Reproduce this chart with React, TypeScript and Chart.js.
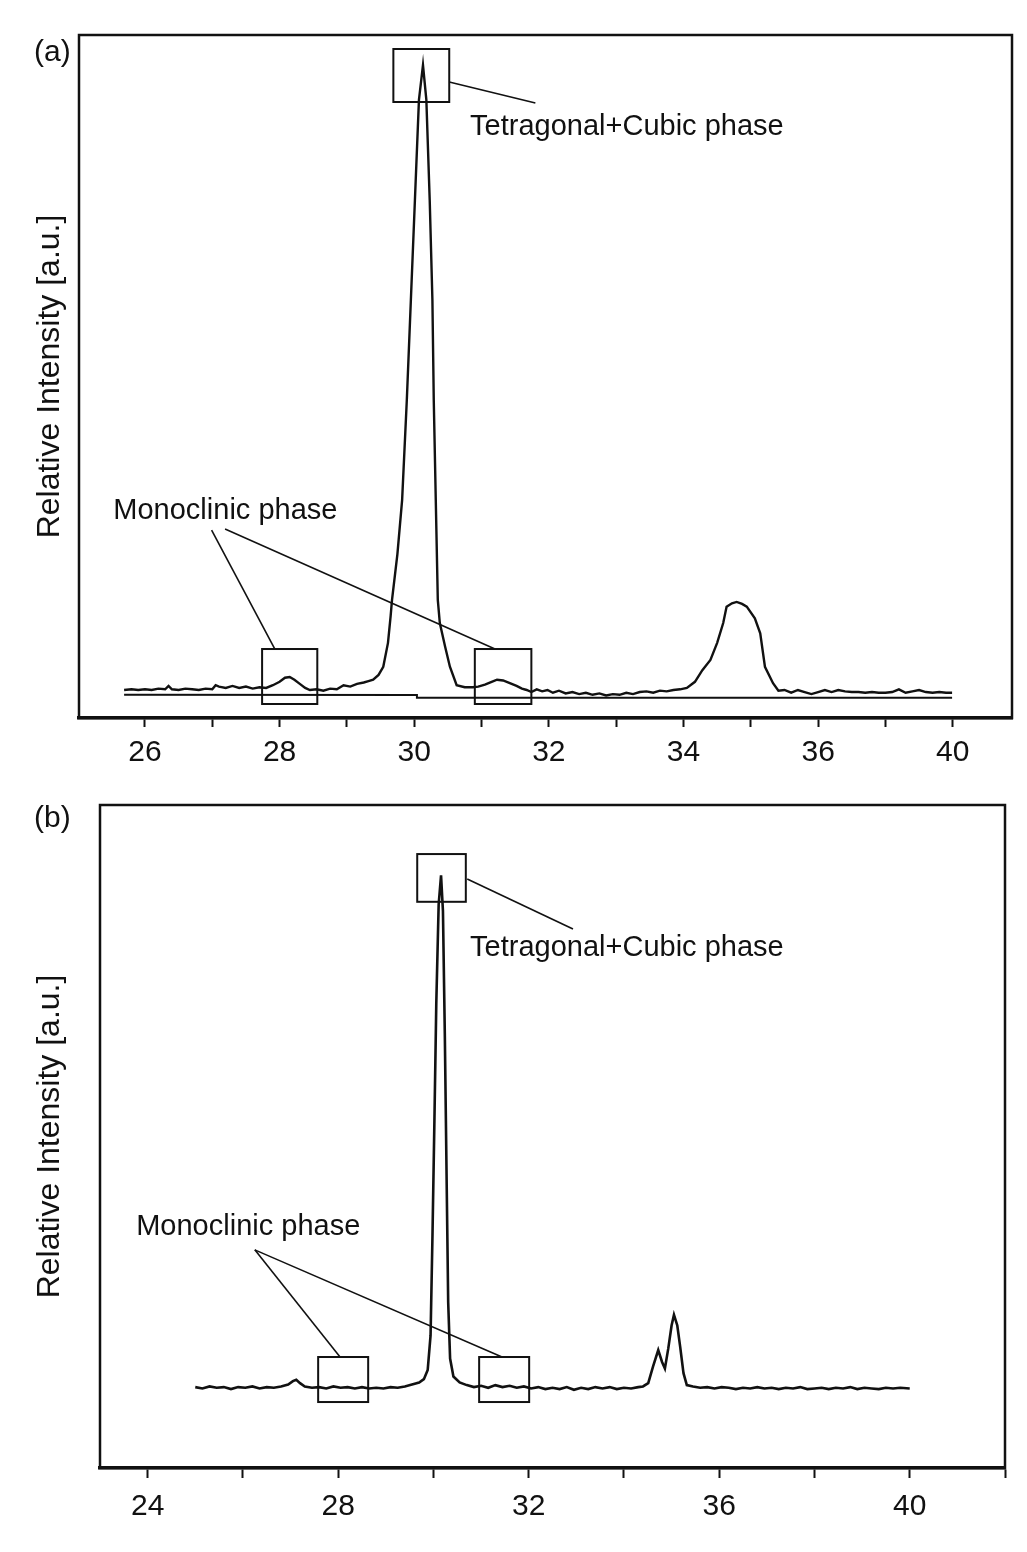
import React, { useEffect, useRef } from 'react';
import { Chart, registerables } from 'chart.js';

Chart.register(...registerables);

const FONT = '"Liberation Sans", Arial, Helvetica, sans-serif';

// ---------------- Panel (a) ----------------
const aTwoTheta = [
  25.69, 25.8, 25.9, 26.0, 26.1, 26.2, 26.3, 26.35, 26.4, 26.5, 26.6, 26.7, 26.8, 26.9, 27.0, 27.05,
  27.1, 27.2, 27.3, 27.4, 27.5, 27.6, 27.7, 27.8, 27.9, 28.0, 28.08, 28.15, 28.22, 28.3, 28.38, 28.45,
  28.55, 28.65, 28.75, 28.85, 28.95, 29.05, 29.15, 29.25, 29.32, 29.39, 29.47, 29.54, 29.61, 29.65,
  29.67, 29.75, 29.82, 29.89, 29.95, 30.01, 30.07, 30.13, 30.18, 30.23, 30.27, 30.29, 30.32, 30.35,
  30.38, 30.46, 30.53, 30.63, 30.75, 30.87, 30.95, 31.05, 31.15, 31.23, 31.32, 31.42, 31.52, 31.6,
  31.67, 31.74, 31.82, 31.9, 31.98, 32.06, 32.15, 32.25, 32.35, 32.45, 32.55, 32.65, 32.75, 32.85,
  32.95, 33.05, 33.15, 33.25, 33.35, 33.45, 33.55, 33.65, 33.75, 33.85, 33.95, 34.05, 34.17, 34.28,
  34.4, 34.5, 34.59, 34.64, 34.72, 34.79, 34.87, 34.94, 35.06, 35.14, 35.21, 35.33, 35.41, 35.5,
  35.6, 35.7, 35.8, 35.9, 36.0, 36.1, 36.2, 36.3, 36.4, 36.5, 36.6, 36.7, 36.8, 36.9, 37.0, 37.1,
  37.2, 37.3, 37.4, 37.5, 37.6, 37.7, 37.8, 37.9, 37.99,
];
const aIntensity = [
  4.1, 4.2, 4.1, 4.2, 4.1, 4.3, 4.2, 4.7, 4.2, 4.1, 4.3, 4.2, 4.1, 4.3, 4.2, 4.8,
  4.6, 4.4, 4.7, 4.4, 4.6, 4.3, 4.5, 4.4, 4.8, 5.3, 5.9, 6.0, 5.6, 5.0, 4.4, 4.1,
  4.2, 4.0, 4.3, 4.2, 4.8, 4.6, 5.0, 5.2, 5.4, 5.6, 6.3, 7.5, 11.0, 15.0,
  17.3, 24.0, 31.9, 46.6, 61.2, 75.8, 90.5, 95.6, 90.5, 75.8, 61.2, 46.6, 31.9, 17.3,
  13.9, 10.4, 7.5, 4.8, 4.5, 4.5, 4.6, 4.9, 5.3, 5.6, 5.5, 5.1, 4.7, 4.3,
  4.1, 3.8, 4.2, 3.9, 4.1, 3.7, 4.0, 3.6, 3.8, 3.5, 3.7, 3.4, 3.6, 3.3,
  3.5, 3.4, 3.7, 3.5, 3.8, 3.9, 3.7, 4.0, 3.9, 4.1, 4.2, 4.4, 5.3, 7.0,
  8.5, 11.0, 13.9, 16.3, 16.8, 17.0, 16.7, 16.3, 14.6, 12.4, 7.5, 5.1, 4.0, 4.1,
  3.7, 4.1, 3.8, 3.5, 3.8, 4.1, 3.8, 4.1, 3.9, 3.8, 3.8, 3.7, 3.8, 3.7, 3.7, 3.8,
  4.2, 3.7, 3.9, 4.1, 3.8, 3.7, 3.8, 3.7, 3.7,
];
const aBaseTwoTheta = [25.69, 30.04, 30.04, 37.99];
const aBaseIntensity = [3.4, 3.37, 2.97, 2.97];
const aTickValues = [26, 27, 28, 29, 30, 31, 32, 33, 34, 35, 36, 37, 38];
const aTickLabels = ['26', '', '28', '', '30', '', '32', '', '34', '', '36', '', '40'];

// ---------------- Panel (b) ----------------
const bTwoTheta = [
  25.0, 25.15, 25.3, 25.45, 25.6, 25.75, 25.9, 26.05, 26.2, 26.35, 26.5, 26.65, 26.8, 26.95, 27.05,
  27.12, 27.2, 27.3, 27.45, 27.6, 27.75, 27.9, 28.05, 28.2, 28.35, 28.5, 28.65, 28.8, 28.95, 29.1,
  29.25, 29.4, 29.55, 29.7, 29.8, 29.88, 29.94, 29.98, 30.02, 30.06, 30.11, 30.16, 30.2, 30.24,
  30.28, 30.31, 30.35, 30.42, 30.55, 30.7, 30.85, 31.0, 31.15, 31.3, 31.45, 31.6, 31.75, 31.9,
  32.05, 32.2, 32.35, 32.5, 32.65, 32.8, 32.95, 33.1, 33.25, 33.4, 33.55, 33.7, 33.85, 34.0,
  34.15, 34.3, 34.4, 34.51, 34.61, 34.72, 34.8, 34.86, 34.93, 35.0, 35.05, 35.12, 35.18, 35.25,
  35.32, 35.45, 35.6, 35.75, 35.9, 36.05, 36.2, 36.35, 36.5, 36.65, 36.8, 36.95, 37.1, 37.25,
  37.4, 37.55, 37.7, 37.85, 38.0, 38.15, 38.3, 38.45, 38.6, 38.75, 38.9, 39.05, 39.2, 39.35,
  39.5, 39.65, 39.8, 40.0,
];
const bIntensity = [
  12.2, 12.0, 12.3, 12.1, 12.2, 11.9, 12.2, 12.1, 12.3, 12.0, 12.2, 12.1, 12.3, 12.6, 13.1,
  13.3, 12.8, 12.3, 12.1, 12.2, 12.0, 12.3, 12.1, 12.2, 12.0, 12.2, 12.0, 12.1, 12.0, 12.2,
  12.1, 12.3, 12.6, 12.9, 13.4, 14.8, 20.0, 35.0, 52.0, 70.0, 85.0, 89.4, 84.0, 65.0,
  42.0, 25.0, 16.5, 13.8, 12.9, 12.5, 12.2, 12.4, 12.1, 12.5, 12.2, 12.4, 12.1, 12.3,
  12.0, 12.2, 11.9, 12.1, 11.9, 12.2, 11.8, 12.1, 11.9, 12.2, 12.0, 12.2, 11.9, 12.1,
  12.0, 12.2, 12.3, 12.8, 15.3, 17.8, 16.0, 15.0, 18.0, 21.5, 23.1, 21.5, 18.3, 14.3,
  12.5, 12.3, 12.1, 12.2, 12.0, 12.2, 12.1, 11.9, 12.1, 12.0, 12.2, 12.0, 12.1, 11.9,
  12.1, 12.0, 12.2, 11.9, 12.0, 12.1, 11.9, 12.1, 12.0, 12.2, 11.9, 12.1, 12.0, 11.9,
  12.1, 12.0, 12.1, 12.0,
];
const bTickValues = [24, 26, 28, 30, 32, 34, 36, 38, 40, 42];
const bTickLabels = ['24', '', '28', '', '32', '', '36', '', '40', ''];

const yTitle = 'Relative Intensity [a.u.]';
const peakLabel = 'Tetragonal+Cubic phase';
const monoLabel = 'Monoclinic phase';

// annotation geometry, in axis units (2θ, % of intensity axis)
const aNotes = {
  boxes: [
    [29.69, 97.95, 30.52, 90.19],
    [27.74, 10.1, 28.56, 2.05],
    [30.9, 10.1, 31.74, 2.05],
  ],
  leaders: [
    [30.52, 93.12, 31.8, 90.04],
    [26.99, 27.5, 27.93, 10.1],
    [27.19, 27.67, 31.2, 10.1],
  ],
  texts: [
    { text: peakLabel, x: 30.83, y: 86.5 },
    { text: monoLabel, x: 25.53, y: 30.3 },
  ],
};
const bNotes = {
  boxes: [
    [29.66, 92.6, 30.68, 85.4],
    [27.58, 16.74, 28.63, 9.95],
    [30.96, 16.74, 32.01, 9.95],
  ],
  leaders: [
    [30.71, 88.84, 32.93, 81.3],
    [26.25, 32.9, 28.04, 16.74],
    [26.25, 32.9, 31.44, 16.74],
  ],
  texts: [
    { text: peakLabel, x: 30.77, y: 78.4 },
    { text: monoLabel, x: 23.76, y: 36.3 },
  ],
};

const notesPlugin = {
  id: 'phaseNotes',
  afterDatasetsDraw(chart: any, _args: any, opts: any) {
    const notes = opts && opts.notes;
    if (!notes) return;
    const { ctx } = chart;
    const xs = chart.scales.x;
    const ys = chart.scales.y;
    const px = (v: number) => xs.getPixelForValue(v);
    const py = (v: number) => ys.getPixelForValue(v);
    ctx.save();
    ctx.strokeStyle = '#111';
    ctx.lineWidth = 2;
    for (const b of notes.boxes) {
      const x0 = px(b[0]);
      const y0 = py(b[1]);
      ctx.strokeRect(x0, y0, px(b[2]) - x0, py(b[3]) - y0);
    }
    ctx.lineWidth = 1.6;
    for (const l of notes.leaders) {
      ctx.beginPath();
      ctx.moveTo(px(l[0]), py(l[1]));
      ctx.lineTo(px(l[2]), py(l[3]));
      ctx.stroke();
    }
    ctx.fillStyle = '#111';
    ctx.font = `29px ${FONT}`;
    ctx.textAlign = 'left';
    ctx.textBaseline = 'middle';
    for (const t of notes.texts) {
      ctx.fillText(t.text, px(t.x), py(t.y));
    }
    ctx.restore();
  },
};

const framePlugin = {
  id: 'plotFrame',
  afterDraw(chart: any) {
    const { ctx, chartArea } = chart;
    ctx.save();
    ctx.strokeStyle = '#111';
    ctx.lineWidth = 2.5;
    ctx.strokeRect(chartArea.left, chartArea.top, chartArea.right - chartArea.left, chartArea.bottom - chartArea.top);
    ctx.restore();
  },
};

type PanelProps = {
  top: number;
  height: number;
  xMin: number;
  xMax: number;
  series: { x: number[]; y: number[]; width: number }[];
  tickValues: number[];
  tickLabels: string[];
  notes: any;
  padTop: number;
  padRight: number;
  yWidth: number;
  xHeight: number;
  tickLength: number;
  tickPad: number;
};

function Panel(p: PanelProps) {
  const ref = useRef<HTMLCanvasElement | null>(null);
  useEffect(() => {
    if (!ref.current) return;
    const chart = new Chart(ref.current, {
      type: 'line',
      data: {
        datasets: p.series.map((s) => ({
          data: s.x.map((x, i) => ({ x, y: s.y[i] })),
          borderColor: '#111',
          borderWidth: s.width,
          pointRadius: 0,
          tension: 0,
          fill: false,
        })),
      },
      options: {
        animation: false,
        responsive: false,
        devicePixelRatio: 1,
        parsing: false as any,
        layout: { padding: { top: p.padTop, right: p.padRight, left: 0, bottom: 0 } },
        plugins: {
          legend: { display: false },
          tooltip: { enabled: false },
          phaseNotes: { notes: p.notes },
        } as any,
        scales: {
          x: {
            type: 'linear',
            min: p.xMin,
            max: p.xMax,
            afterBuildTicks: (scale: any) => {
              scale.ticks = p.tickValues.map((v) => ({ value: v }));
            },
            afterFit: (scale: any) => {
              scale.height = p.xHeight;
            },
            ticks: {
              autoSkip: false,
              maxRotation: 0,
              padding: p.tickPad,
              color: '#111',
              font: { size: 30, family: FONT },
              callback: (_v: any, i: number) => p.tickLabels[i],
            },
            grid: {
              display: true,
              drawOnChartArea: false,
              drawTicks: true,
              tickLength: p.tickLength,
              tickWidth: 2,
              tickColor: '#111',
            },
            border: { display: true, width: 3.5, color: '#111' },
          },
          y: {
            type: 'linear',
            min: 0,
            max: 100,
            afterFit: (scale: any) => {
              scale.width = p.yWidth;
            },
            ticks: { display: false },
            grid: { display: false },
            border: { display: false },
            title: {
              display: true,
              text: yTitle,
              color: '#111',
              font: { size: 32, family: FONT },
              padding: { top: 31, bottom: 0 },
            },
          },
        },
      },
      plugins: [notesPlugin, framePlugin],
    } as any);
    return () => chart.destroy();
  }, []);
  return (
    <canvas
      ref={ref}
      width={1027}
      height={p.height}
      style={{ position: 'absolute', left: 0, top: p.top, width: 1027, height: p.height }}
    />
  );
}

const letterStyle: React.CSSProperties = {
  position: 'absolute',
  left: 34,
  fontFamily: FONT,
  fontSize: 30,
  lineHeight: '30px',
  color: '#111',
};

export default function App() {
  return (
    <div style={{ position: 'absolute', left: 0, top: 0, width: 1027, height: 1552, background: '#fff', overflow: 'hidden' }}>
      <Panel
        top={0}
        height={776}
        xMin={25.02}
        xMax={38.88}
        series={[
          { x: aTwoTheta, y: aIntensity, width: 2.4 },
          { x: aBaseTwoTheta, y: aBaseIntensity, width: 2 },
        ]}
        tickValues={aTickValues}
        tickLabels={aTickLabels}
        notes={aNotes}
        padTop={35}
        padRight={15}
        yWidth={79}
        xHeight={58}
        tickLength={9}
        tickPad={8}
      />
      <Panel
        top={776}
        height={776}
        xMin={23}
        xMax={42}
        series={[{ x: bTwoTheta, y: bIntensity, width: 2.6 }]}
        tickValues={bTickValues}
        tickLabels={bTickLabels}
        notes={bNotes}
        padTop={29}
        padRight={22}
        yWidth={100}
        xHeight={84}
        tickLength={10}
        tickPad={11}
      />
      <div style={{ ...letterStyle, top: 36 }}>(a)</div>
      <div style={{ ...letterStyle, top: 802 }}>(b)</div>
    </div>
  );
}
